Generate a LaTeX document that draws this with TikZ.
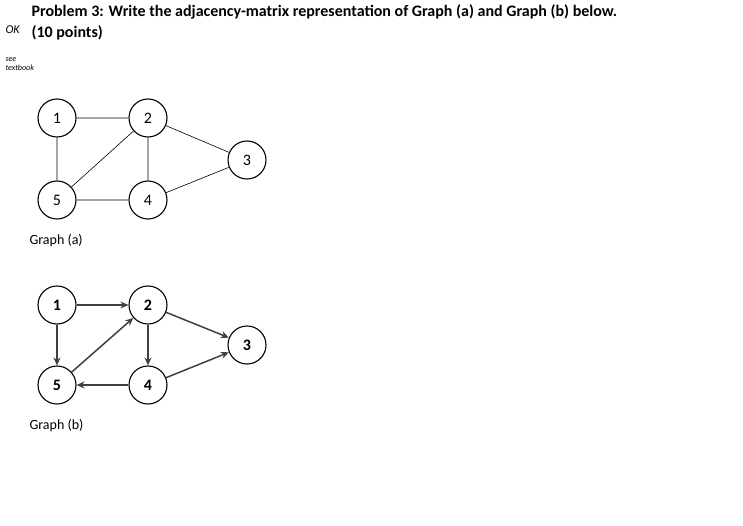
\documentclass[tikz,border=0pt]{standalone}
\usepackage{fontspec}
\setmainfont{Carlito}
\usetikzlibrary{arrows.meta}
\begin{document}
\begin{tikzpicture}[x=1pt,y=-1pt,
  vtx/.style={circle,draw,line width=1.1pt,minimum size=38pt,inner sep=0pt,font=\fontsize{16}{16}\selectfont},
  vtxb/.style={vtx,font=\fontsize{16}{16}\selectfont\bfseries},
  ed/.style={line width=0.6pt},
  arr/.style={line width=1.5pt,draw=black!75,-{Stealth[length=8pt,width=7pt]}},
  lbl/.style={anchor=west,font=\fontsize{16}{18}\selectfont\bfseries}]
\useasboundingbox (0,0) rectangle (743,526);
\node[lbl] (t1) at (28,12) {Problem 3: Write the adjacency-matrix representation of Graph (a) and Graph (b) below.};
\node[lbl] (t2) at (28,33) {(10 points)};
\node[anchor=west,font=\fontsize{12}{12}\selectfont\itshape] (ok) at (2,30) {OK};
\node[anchor=west,font=\fontsize{8}{9}\selectfont\itshape,align=left] (see) at (2,64) {see\\textbook};
\node[vtx] (a1) at (57,118) {1};
\node[vtx] (a2) at (148,118) {2};
\node[vtx] (a3) at (247,160) {3};
\node[vtx] (a5) at (57,200) {5};
\node[vtx] (a4) at (148,200) {4};
\draw[ed] (a1)--(a2) (a1)--(a5) (a2)--(a3) (a2)--(a4) (a5)--(a4) (a5)--(a2) (a4)--(a3);
\node[anchor=west,font=\fontsize{14}{16}\selectfont] (ga) at (26,241) {Graph (a)};
\node[vtxb] (b1) at (57,305) {1};
\node[vtxb] (b2) at (148,305) {2};
\node[vtxb] (b3) at (247,345) {3};
\node[vtxb] (b5) at (57,385) {5};
\node[vtxb] (b4) at (148,385) {4};
\draw[arr] (b1)--(b2);
\draw[arr] (b1)--(b5);
\draw[arr] (b5)--(b2);
\draw[arr] (b2)--(b4);
\draw[arr] (b2)--(b3);
\draw[arr] (b4)--(b5);
\draw[arr] (b4)--(b3);
\node[anchor=west,font=\fontsize{14}{16}\selectfont] (gb) at (26,426) {Graph (b)};
\end{tikzpicture}
\end{document}
